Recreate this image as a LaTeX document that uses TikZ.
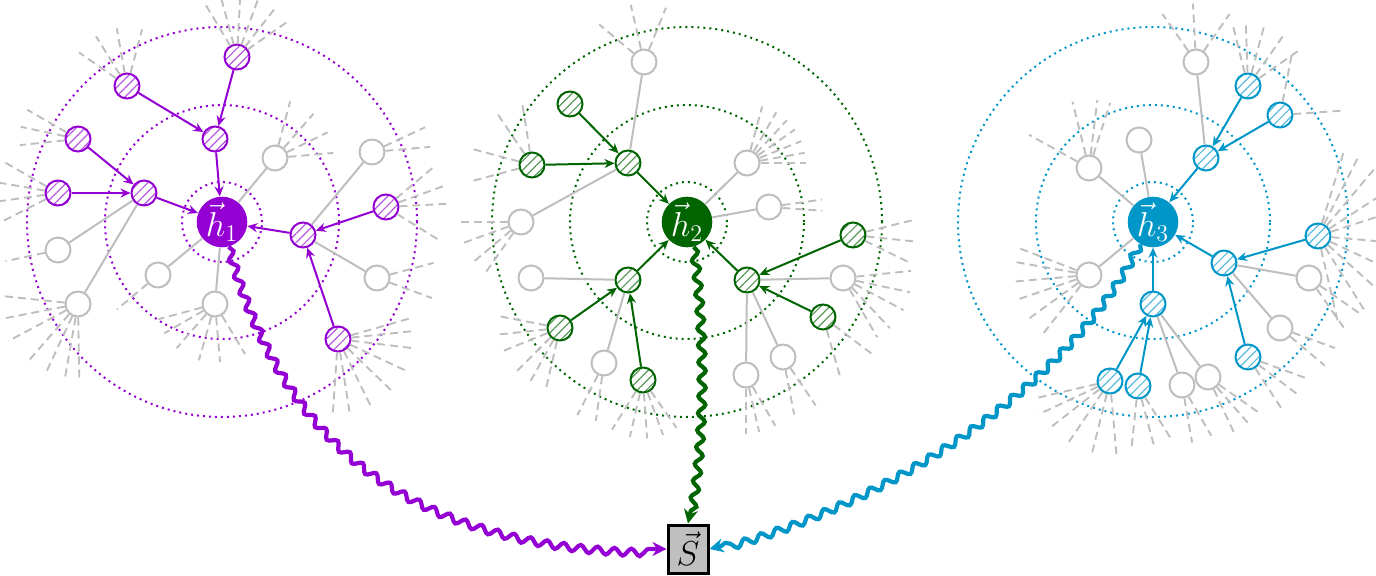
\documentclass[tikz,border=0pt]{standalone}
\usetikzlibrary{arrows.meta,decorations.pathmorphing,patterns.meta}
\definecolor{vio}{RGB}{148,0,211}
\definecolor{grn}{RGB}{0,100,0}
\definecolor{cya}{RGB}{0,150,200}
\definecolor{lgray}{RGB}{190,190,190}
\tikzset{
  hub/.style={circle, inner sep=0pt, minimum size=25pt, text=white, font=\LARGE},
  nb/.style={circle, draw=#1, line width=1pt, inner sep=0pt, minimum size=12.5pt, preaction={fill=white}, pattern={Lines[angle=45, distance=3.2pt, line width=0.6pt]}, pattern color=#1!65},
  faraway/.style={circle, draw=lgray, fill=white, line width=1pt, inner sep=0pt, minimum size=12.5pt},
  treeline/.style={lgray, line width=1pt},
  ray/.style={lgray, line width=0.95pt, dash pattern=on 4pt off 2.5pt},
  ring/.style={#1, line width=1pt, dotted},
  msg/.style={#1, line width=1pt, -{Stealth[length=5pt,width=4.5pt]}},
  wave/.style={#1, line width=2.1pt, decorate, decoration={snake, amplitude=1.8pt, segment length=8.5pt, post length=6pt}, -{Stealth[length=7pt,width=7pt]}},
  sbox/.style={draw=black, line width=1.5pt, fill=gray!50, minimum width=20pt, minimum height=24pt, inner sep=0pt, font=\LARGE}
}
\begin{document}
\begin{tikzpicture}[x=0.5pt, y=0.5pt]
  \useasboundingbox (0,0) rectangle (1376,575);
  \foreach \r in {40,117,195} {
   \draw[ring=vio] (222,353) circle (\r);
   \draw[ring=grn] (687,353) circle (\r);
   \draw[ring=cya] (1153,353) circle (\r);
  }

  \node[hub, fill=vio] (h1) at (222,353) {$\vec{h}_1$};
  \node[nb=vio] (p1) at (237,518) {};
  \node[nb=vio] (p2) at (127,489) {};
  \node[nb=vio] (p3) at (215,436) {};
  \node[nb=vio] (p4) at (78,436) {};
  \node[nb=vio] (p5) at (58,382) {};
  \node[nb=vio] (p6) at (144,382) {};
  \node[nb=vio] (p7) at (386,368) {};
  \node[nb=vio] (p8) at (303,340) {};
  \node[nb=vio] (p9) at (338,236) {};
  \node[faraway] (pg1) at (275,417) {};
  \node[faraway] (pg2) at (372,423) {};
  \node[faraway] (pg3) at (58,325) {};
  \node[faraway] (pg4) at (158,300) {};
  \node[faraway] (pg5) at (215,271) {};
  \node[faraway] (pg6) at (78,271) {};
  \node[faraway] (pg7) at (377,297) {};

  \node[hub, fill=grn] (h2) at (687,353) {$\vec{h}_2$};
  \node[nb=grn] (g1) at (570,471) {};
  \node[nb=grn] (g2) at (532,410) {};
  \node[nb=grn] (g3) at (628,412) {};
  \node[nb=grn] (g4) at (628,295) {};
  \node[nb=grn] (g5) at (560,247) {};
  \node[nb=grn] (g6) at (643,195) {};
  \node[nb=grn] (g7) at (747,295) {};
  \node[nb=grn] (g8) at (853,340) {};
  \node[nb=grn] (g9) at (823,258) {};
  \node[faraway] (gg1) at (644,513) {};
  \node[faraway] (gg2) at (747,412) {};
  \node[faraway] (gg3) at (769,368) {};
  \node[faraway] (gg4) at (521,353) {};
  \node[faraway] (gg5) at (531,297) {};
  \node[faraway] (gg6) at (604,212) {};
  \node[faraway] (gg7) at (746,200) {};
  \node[faraway] (gg8) at (783,218) {};
  \node[faraway] (gg9) at (843,297) {};

  \node[hub, fill=cya] (h3) at (1153,353) {$\vec{h}_3$};
  \node[nb=cya] (b1) at (1248,489) {};
  \node[nb=cya] (b2) at (1280,460) {};
  \node[nb=cya] (b3) at (1206,417) {};
  \node[nb=cya] (b4) at (1318,339) {};
  \node[nb=cya] (b5) at (1224,312) {};
  \node[nb=cya] (b6) at (1153,271) {};
  \node[nb=cya] (b7) at (1248,218) {};
  \node[nb=cya] (b8) at (1110,194) {};
  \node[nb=cya] (b9) at (1138,189) {};
  \node[faraway] (bg1) at (1196,513) {};
  \node[faraway] (bg2) at (1139,435) {};
  \node[faraway] (bg3) at (1089,407) {};
  \node[faraway] (bg4) at (1089,300) {};
  \node[faraway] (bg5) at (1309,297) {};
  \node[faraway] (bg6) at (1280,247) {};
  \node[faraway] (bg7) at (1182,190) {};
  \node[faraway] (bg8) at (1208,198) {};

  \node[sbox] (s) at (688,26) {$\vec{S}$};

  \foreach \a in {35,52,70,87,105,121} \draw[ray] (p1.\a) -- ++(\a:48);
  \foreach \a in {75,100,122,145} \draw[ray] (p2.\a) -- ++(\a:45);
  \foreach \a in {150,168,186} \draw[ray] (p4.\a) -- ++(\a:45);
  \foreach \a in {150,170,188,207} \draw[ray] (p5.\a) -- ++(\a:48);
  \foreach \a in {-32,3,20,40} \draw[ray] (p7.\a) -- ++(\a:48);
  \foreach \a in {-94,-81,-64,-44,-25,-7,6,16} \draw[ray] (p9.\a) -- ++(\a:60);
  \foreach \a in {5,26,49,75} \draw[ray] (pg1.\a) -- ++(\a:45);
  \foreach \a in {5,25} \draw[ray] (pg2.\a) -- ++(\a:45);
  \foreach \a in {192} \draw[ray] (pg3.\a) -- ++(\a:40);
  \foreach \a in {220} \draw[ray] (pg4.\a) -- ++(\a:40);
  \foreach \a in {195,210,229,254,275,301} \draw[ray] (pg5.\a) -- ++(\a:45);
  \foreach \a in {174,191,208,229,245,260,271} \draw[ray] (pg6.\a) -- ++(\a:65);
  \foreach \a in {-20,15} \draw[ray] (pg7.\a) -- ++(\a:45);

  \foreach \a in {99,124,165,195} \draw[ray] (g2.\a) -- ++(\a:48);
  \foreach \a in {169,186,202,225,241,257} \draw[ray] (g5.\a) -- ++(\a:50);
  \foreach \a in {238,257,274,290,305} \draw[ray] (g6.\a) -- ++(\a:45);
  \foreach \a in {-26,-6,14} \draw[ray] (g8.\a) -- ++(\a:50);
  \foreach \a in {-74,-37} \draw[ray] (g9.\a) -- ++(\a:50);
  \foreach \a in {68,103,140} \draw[ray] (gg1.\a) -- ++(\a:45);
  \foreach \a in {0,10,22,35,47,60,75} \draw[ray] (gg2.\a) -- ++(\a:45);
  \foreach \a in {-4,8} \draw[ray] (gg3.\a) -- ++(\a:40);
  \foreach \a in {180,200,220,235} \draw[ray] (gg4.\a) -- ++(\a:48);
  \foreach \a in {243,262} \draw[ray] (gg6.\a) -- ++(\a:45);
  \foreach \a in {270,283,300} \draw[ray] (gg7.\a) -- ++(\a:45);
  \foreach \a in {281,304} \draw[ray] (gg8.\a) -- ++(\a:45);
  \foreach \a in {-60,-47,-28,-12,6} \draw[ray] (gg9.\a) -- ++(\a:55);

  \foreach \a in {35,55,75,92,104} \draw[ray] (b1.\a) -- ++(\a:50);
  \foreach \a in {4,79} \draw[ray] (b2.\a) -- ++(\a:50);
  \foreach \a in {-77,-58,-42,-25,-5,18,33,50,63,73} \draw[ray] (b4.\a) -- ++(\a:75);
  \foreach \a in {-57,-37,-20} \draw[ray] (b7.\a) -- ++(\a:50);
  \foreach \a in {193,205,218,236,256,275} \draw[ray] (b8.\a) -- ++(\a:65);
  \foreach \a in {-96,-75,-58} \draw[ray] (b9.\a) -- ++(\a:50);
  \foreach \a in {55,93,125} \draw[ray] (bg1.\a) -- ++(\a:45);
  \foreach \a in {72,83,104,151} \draw[ray] (bg3.\a) -- ++(\a:55);
  \foreach \a in {159,170,185,199,216,232} \draw[ray] (bg4.\a) -- ++(\a:60);
  \foreach \a in {-55,-35} \draw[ray] (bg5.\a) -- ++(\a:50);
  \foreach \a in {-40,-20} \draw[ray] (bg6.\a) -- ++(\a:45);
  \foreach \a in {-80,-60} \draw[ray] (bg7.\a) -- ++(\a:45);
  \foreach \a in {-65,-49,-35} \draw[ray] (bg8.\a) -- ++(\a:50);

  \draw[treeline] (h1) -- (pg1);
  \draw[treeline] (h1) -- (pg4);
  \draw[treeline] (h1) -- (pg5);
  \draw[treeline] (p8) -- (pg2);
  \draw[treeline] (p8) -- (pg7);
  \draw[treeline] (p6) -- (pg3);
  \draw[treeline] (p6) -- (pg6);
  \draw[treeline] (h2) -- (gg2);
  \draw[treeline] (h2) -- (gg3);
  \draw[treeline] (g3) -- (gg1);
  \draw[treeline] (g3) -- (gg4);
  \draw[treeline] (g4) -- (gg5);
  \draw[treeline] (g4) -- (gg6);
  \draw[treeline] (g7) -- (gg7);
  \draw[treeline] (g7) -- (gg8);
  \draw[treeline] (g7) -- (gg9);
  \draw[treeline] (h3) -- (bg2);
  \draw[treeline] (h3) -- (bg3);
  \draw[treeline] (h3) -- (bg4);
  \draw[treeline] (b3) -- (bg1);
  \draw[treeline] (b5) -- (bg5);
  \draw[treeline] (b5) -- (bg6);
  \draw[treeline] (b6) -- (bg7);
  \draw[treeline] (b6) -- (bg8);

  \draw[msg=vio] (p1) -- (p3);
  \draw[msg=vio] (p2) -- (p3);
  \draw[msg=vio] (p3) -- (h1);
  \draw[msg=vio] (p4) -- (p6);
  \draw[msg=vio] (p5) -- (p6);
  \draw[msg=vio] (p6) -- (h1);
  \draw[msg=vio] (p7) -- (p8);
  \draw[msg=vio] (p9) -- (p8);
  \draw[msg=vio] (p8) -- (h1);
  \draw[msg=grn] (g1) -- (g3);
  \draw[msg=grn] (g2) -- (g3);
  \draw[msg=grn] (g3) -- (h2);
  \draw[msg=grn] (g5) -- (g4);
  \draw[msg=grn] (g6) -- (g4);
  \draw[msg=grn] (g4) -- (h2);
  \draw[msg=grn] (g8) -- (g7);
  \draw[msg=grn] (g9) -- (g7);
  \draw[msg=grn] (g7) -- (h2);
  \draw[msg=cya] (b1) -- (b3);
  \draw[msg=cya] (b2) -- (b3);
  \draw[msg=cya] (b3) -- (h3);
  \draw[msg=cya] (b4) -- (b5);
  \draw[msg=cya] (b7) -- (b5);
  \draw[msg=cya] (b5) -- (h3);
  \draw[msg=cya] (b8) -- (b6);
  \draw[msg=cya] (b9) -- (b6);
  \draw[msg=cya] (b6) -- (h3);

  \draw[wave=vio] (h1.-75) .. controls (285,125) and (420,25) .. (s.west);
  \draw[wave=grn] (h2.-75) .. controls (705,245) and (705,125) .. (s.north);
  \draw[wave=cya] (h3.-120) .. controls (1070,195) and (900,75) .. (s.east);
 \end{tikzpicture}
\end{document}
